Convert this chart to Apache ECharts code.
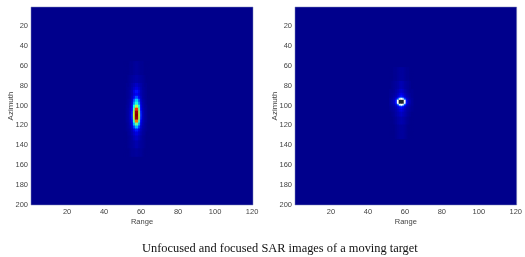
<!DOCTYPE html>
<html>
<head>
<meta charset="utf-8">
<style>
  html, body { margin: 0; padding: 0; background: #fff; }
  #main { width: 525px; height: 257px; }
</style>
<script src="https://cdn.jsdelivr.net/npm/echarts@6/dist/echarts.min.js"></script>
</head>
<body>
<div id="main"></div>
<script>
var xTickLabels = ['20', '40', '60', '80', '100', '120'];
var yTickLabels = ['20', '40', '60', '80', '100', '120', '140', '160', '180', '200'];
var caption = 'Unfocused and focused SAR images of a moving target';

// azimuth bins (start rows), last one only closes the previous bin
var leftAzimuth = [56, 70, 78, 82, 85, 88, 91, 94, 97, 100, 103, 106, 109, 112, 115, 118, 121, 124, 127, 131, 136, 144, 152];
// brightness per bin, from the target column outwards
var leftValues = [
  [3, 2, 1, 1, 0, 0, 0],
  [5, 4, 3, 2, 1, 0, 0],
  [10, 7, 5, 3, 1, 1, 0],
  [14, 10, 6, 3, 2, 1, 0],
  [21, 15, 7, 4, 2, 1, 0],
  [18, 13, 7, 4, 2, 1, 0],
  [26, 19, 9, 4, 2, 1, 0],
  [36, 26, 11, 5, 3, 1, 0],
  [42, 31, 13, 6, 3, 1, 0],
  [54, 40, 16, 7, 3, 2, 0],
  [76, 48, 19, 8, 4, 2, 0],
  [94, 54, 22, 9, 4, 2, 0],
  [98, 56, 23, 9, 4, 2, 0],
  [94, 54, 22, 9, 4, 2, 0],
  [70, 45, 18, 8, 4, 2, 0],
  [48, 34, 14, 7, 3, 1, 0],
  [34, 24, 11, 5, 3, 1, 0],
  [22, 15, 8, 4, 2, 1, 0],
  [15, 10, 6, 3, 2, 0, 0],
  [10, 7, 4, 2, 1, 0, 0],
  [6, 4, 3, 2, 1, 0, 0],
  [3, 2, 2, 1, 0, 0, 0]
];

var rightAzimuth = [62, 76, 84, 88, 90, 92, 93, 94, 95, 99, 100, 101, 102, 104, 107, 112, 120, 134];
var rightValues = [
  [3, 3, 2, 1, 1, 0, 0],
  [7, 6, 4, 3, 2, 1, 0],
  [11, 9, 6, 4, 2, 1, 1],
  [16, 13, 8, 5, 3, 2, 1],
  [22, 17, 11, 6, 4, 2, 1],
  [34, 26, 15, 8, 5, 3, 1],
  [62, 52, 24, 11, 6, 3, 2],
  [72, 68, 40, 14, 7, 4, 2],
  [100, 100, 72, 22, 9, 5, 2],
  [72, 68, 40, 14, 7, 4, 2],
  [62, 52, 24, 11, 6, 3, 2],
  [34, 26, 15, 8, 5, 3, 1],
  [22, 17, 11, 6, 4, 2, 1],
  [15, 12, 8, 5, 3, 2, 1],
  [10, 8, 6, 4, 2, 1, 0],
  [6, 5, 4, 2, 1, 0, 0],
  [3, 3, 2, 1, 0, 0, 0]
];

var jetColors = ['#00008c', '#0000ff', '#00ffff', '#ffff00', '#ff0000', '#7a0000'];
var focusColors = ['#00008c', '#0000ff', '#0090ff', '#ffffff', '#ffffff', '#1c2430'];

var rangeCats = [];
for (var r = 1; r <= 120; r++) rangeCats.push(String(r));
var azimuthCats = [];
for (var a = 1; a <= 200; a++) azimuthCats.push(String(a));

// spread the bins to cells, columns mirrored around the target
function buildCells(azimuth, values, leftCol, rightCol) {
  var cells = [];
  for (var i = 0; i < values.length; i++) {
    for (var row = azimuth[i]; row < azimuth[i + 1]; row++) {
      for (var k = 0; k < values[i].length; k++) {
        cells.push([leftCol - k - 1, row - 1, values[i][k]]);
        if (k > 0 || rightCol !== leftCol) {
          cells.push([rightCol + k - 1, row - 1, values[i][k]]);
        }
      }
    }
  }
  return cells;
}

function makeX(idx) {
  return {
    type: 'category', gridIndex: idx, data: rangeCats, name: 'Range',
    nameLocation: 'middle', nameGap: 13, nameMoveOverlap: false,
    nameTextStyle: { fontSize: 7.5, color: '#444', fontFamily: 'Liberation Sans' },
    axisLine: { show: false }, axisTick: { show: false }, splitLine: { show: false },
    axisLabel: {
      interval: function (i, v) { return xTickLabels.indexOf(v) >= 0; },
      fontSize: 7.5, color: '#444', margin: 3, fontFamily: 'Liberation Sans'
    }
  };
}

function makeY(idx) {
  return {
    type: 'category', gridIndex: idx, data: azimuthCats, inverse: true, name: 'Azimuth',
    nameLocation: 'middle', nameGap: 16, nameRotate: 90, nameMoveOverlap: false,
    nameTextStyle: { fontSize: 8, color: '#444', fontFamily: 'Liberation Sans' },
    axisLine: { show: false }, axisTick: { show: false }, splitLine: { show: false },
    axisLabel: {
      interval: function (i, v) { return yTickLabels.indexOf(v) >= 0; },
      fontSize: 7.5, color: '#444', margin: 3, fontFamily: 'Liberation Sans'
    }
  };
}

var chart = echarts.init(document.getElementById('main'), null, { renderer: 'canvas' });

chart.setOption({
  backgroundColor: '#fff',
  animation: false,
  title: {
    text: caption, left: 142, top: 243, padding: 0,
    textStyle: { fontFamily: 'Liberation Serif', fontSize: 12.4, fontWeight: 'normal', color: '#111' }
  },
  grid: [
    { left: 31, top: 7, width: 222, height: 198, show: true, backgroundColor: '#00008c', borderColor: '#7f86b8', borderWidth: 0.5 },
    { left: 295, top: 7, width: 222, height: 198, show: true, backgroundColor: '#00008c', borderColor: '#7f86b8', borderWidth: 0.5 }
  ],
  xAxis: [makeX(0), makeX(1)],
  yAxis: [makeY(0), makeY(1)],
  visualMap: [
    { show: false, seriesIndex: 0, min: 0, max: 100, inRange: { color: jetColors } },
    { show: false, seriesIndex: 1, min: 0, max: 100, inRange: { color: focusColors } }
  ],
  series: [
    { type: 'heatmap', xAxisIndex: 0, yAxisIndex: 0, data: buildCells(leftAzimuth, leftValues, 57, 58), progressive: 0 },
    { type: 'heatmap', xAxisIndex: 1, yAxisIndex: 1, data: buildCells(rightAzimuth, rightValues, 58, 58), progressive: 0 }
  ]
});
</script>
</body>
</html>
